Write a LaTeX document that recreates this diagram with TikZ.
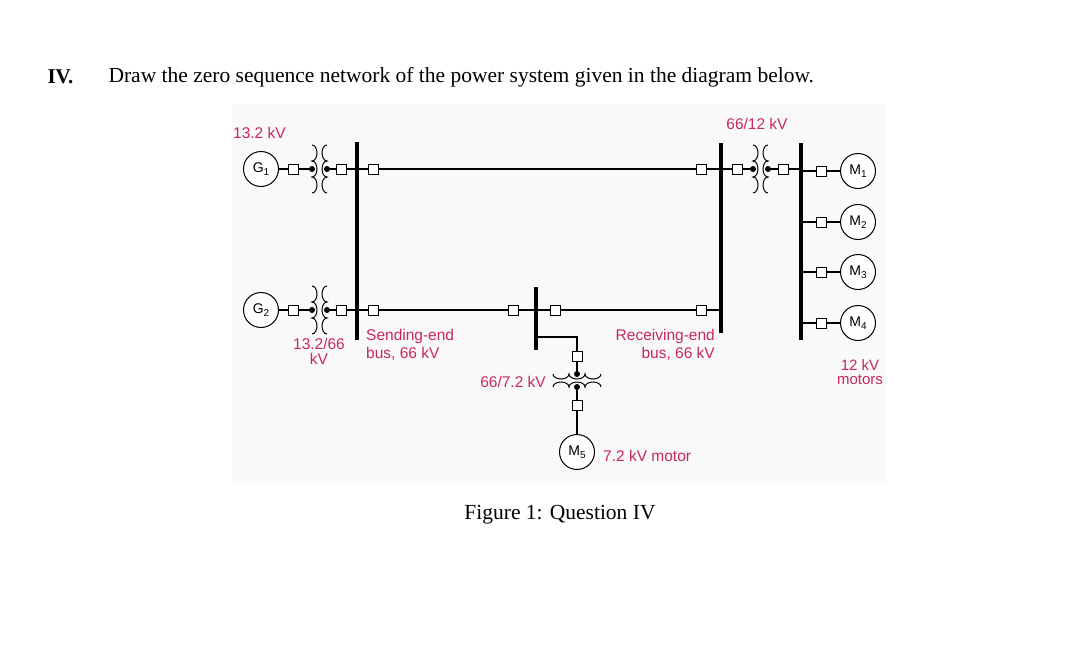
\documentclass[tikz,border=0pt]{standalone}
\usepackage{fontspec}
\setmainfont{Liberation Serif}
\newfontfamily\diagfont{Liberation Sans}
\definecolor{lbl}{RGB}{200,40,90}
\newcommand\subn[1]{\raisebox{-2.5pt}{\fontsize{10}{10}\selectfont #1}}
\begin{document}
\begin{tikzpicture}[x=1pt,y=-1pt,
  brk/.style={draw,fill=white,minimum size=10pt,inner sep=0pt,line width=0.9pt},
  mach/.style={draw,circle,fill=white,minimum size=35pt,inner sep=0pt,line width=1pt,font=\diagfont\fontsize{14}{14}\selectfont},
  bus/.style={line width=4pt},
  wire/.style={line width=1.2pt},
  coil/.style={line width=1pt},
  dot/.style={circle,fill=black,inner sep=0pt,minimum size=6pt},
  lab/.style={text=lbl,font=\diagfont\fontsize{15.5}{18}\selectfont,inner sep=0pt,align=center}]
\useasboundingbox (0,0) rectangle (1080,664);
\fill[gray!5] (232,104) rectangle (886,483);
\node[font=\bfseries\fontsize{21}{21}\selectfont,anchor=west] (num) at (44,77) {IV.};
\node[font=\fontsize{21.5}{21}\selectfont,anchor=west] (title) at (105,77) {Draw the zero sequence network of the power system given in the diagram below.};
\node[font=\fontsize{21.5}{21}\selectfont] (cap) at (560,515) {Figure 1: Question IV};

% buses
\coordinate (sbT) at (357,142); \coordinate (sbB) at (357,340);
\coordinate (rbT) at (721,143); \coordinate (rbB) at (721,333);
\coordinate (mbT) at (801,143); \coordinate (mbB) at (801,340);
\coordinate (cbT) at (536,287); \coordinate (cbB) at (536,350);
\draw[bus] (sbT) -- (sbB);
\draw[bus] (rbT) -- (rbB);
\draw[bus] (mbT) -- (mbB);
\draw[bus] (cbT) -- (cbB);

% coils
\foreach \x/\yy in {312/145,312/286,753/145}{
  \draw[coil] (\x,\yy) arc(-90:90:5 and 8) arc(-90:90:5 and 8) arc(-90:90:5 and 8);
  \draw[coil] (\x+15,\yy) arc(270:90:5 and 8) arc(270:90:5 and 8) arc(270:90:5 and 8);}
\draw[coil] (553,374) arc(180:0:8 and 5) arc(180:0:8 and 5) arc(180:0:8 and 5);
\draw[coil] (553,387) arc(180:360:8 and 5) arc(180:360:8 and 5) arc(180:360:8 and 5);

% row 1
\node[mach] (G1) at (261,169) {G\subn{1}};
\node[brk] (b1) at (293,169) {};
\node[dot] (d1) at (312,169) {};
\node[dot] (d2) at (327,169) {};
\node[brk] (b2) at (341,169) {};
\node[brk] (b3) at (373,169) {};
\node[brk] (b4) at (701,169) {};
\node[brk] (b5) at (737,169) {};
\node[dot] (d3) at (753,169) {};
\node[dot] (d4) at (768,169) {};
\node[brk] (b6) at (783,169) {};
\draw[wire] (G1) -- (b1) -- (d1);
\draw[wire] (d2) -- (b2) -- (b3) -- (b4) -- (b5) -- (d3);
\draw[wire] (d4) -- (b6) -- (mbT |- b6);

% row 2
\node[mach] (G2) at (261,310) {G\subn{2}};
\node[brk] (c1) at (293,310) {};
\node[dot] (e1) at (312,310) {};
\node[dot] (e2) at (327,310) {};
\node[brk] (c2) at (341,310) {};
\node[brk] (c3) at (373,310) {};
\node[brk] (c4) at (513,310) {};
\node[brk] (c5) at (555,310) {};
\node[brk] (c6) at (701,310) {};
\draw[wire] (G2) -- (c1) -- (e1);
\draw[wire] (e2) -- (c2) -- (c3) -- (c4) -- (c5) -- (c6) -- (rbT |- c6);

% branch to M5
\coordinate (tap) at (536,337);
\node[brk] (k1) at (577,356) {};
\node[dot] (f1) at (577,374) {};
\node[dot] (f2) at (577,387) {};
\node[brk] (k2) at (577,405) {};
\node[mach] (M5) at (577,452) {M\subn{5}};
\draw[wire] (tap) -| (k1) -- (f1);
\draw[wire] (f2) -- (k2) -- (M5);

% motors
\foreach \i/\yy in {1/171,2/222,3/272,4/323}{
  \node[brk] (m\i) at (821,\yy) {};
  \node[mach] (M\i) at (858,\yy) {M\subn{\i}};
  \draw[wire] (mbT |- m\i) -- (m\i) -- (M\i);}

% labels
\node[lab,font=\diagfont\fontsize{15.5}{15}\selectfont] (l3) at (319,351) {13.2/66\\kV};
\node[lab,anchor=west] (l1) at (233,133) {13.2 kV};
\node[lab] (l2) at (757,124) {66/12 kV};
\node[lab,align=left,anchor=west] (l4) at (366,345) {Sending-end\\bus, 66 kV};
\node[lab,align=right,anchor=east] (l5) at (715,345) {Receiving-end\\bus, 66 kV};
\node[lab,anchor=east] (l6) at (546,382) {66/7.2 kV};
\node[lab,anchor=west] (l7) at (603,456) {7.2 kV motor};
\node[lab,font=\diagfont\fontsize{15}{14}\selectfont] (l8) at (860,372) {12 kV\\motors};
\end{tikzpicture}
\end{document}
